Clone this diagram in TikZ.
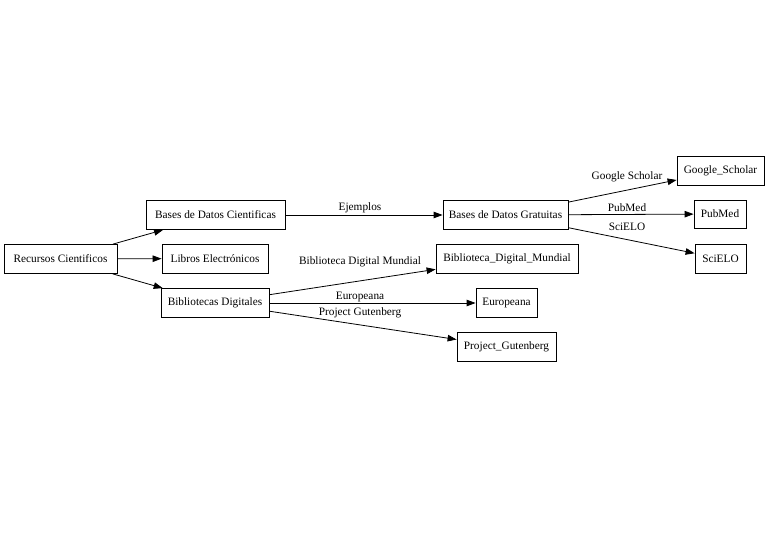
\documentclass[tikz,border=0pt]{standalone}
\usepackage{fontspec}
\setmainfont{Liberation Serif}
\usetikzlibrary{arrows.meta}

\tikzset{
  caja/.style={draw, line width=0.8pt, minimum height=29pt, inner sep=0pt, minimum width=#1},
  etiq/.style={inner sep=0pt},
  flecha/.style={line width=0.8pt, -{Triangle[length=9pt,width=6.5pt]}}
}

\begin{document}
\begin{tikzpicture}[x=1pt,y=-1pt,font=\fontsize{11.3}{13}\selectfont]
        \useasboundingbox (0,0) rectangle (768,543);

        % cajas
        \node[caja=113pt] (rec) at (60.5,259) {Recursos Cientificos};
        \node[caja=139pt] (bdc) at (215.5,215) {Bases de Datos Cientificas};
        \node[caja=106pt] (lib) at (215,258.5) {Libros Electrónicos};
        \node[caja=108pt] (bib) at (215,303) {Bibliotecas Digitales};
        \node[caja=125pt] (bdg) at (505.5,215) {Bases de Datos Gratuitas};
        \node[caja=142pt] (bdm) at (507,258.5) {Biblioteca\_Digital\_Mundial};
        \node[caja=61pt] (eur) at (506.5,303) {Europeana};
        \node[caja=99pt] (pgu) at (506.5,347) {Project\_Gutenberg};
        \node[caja=87pt] (gsc) at (720.5,171) {Google\_Scholar};
        \node[caja=52pt, minimum height=28pt] (pub) at (720,214) {PubMed};
        \node[caja=51pt] (sci) at (720.5,258.5) {SciELO};

        % flechas
        \foreach \a/\b in {rec/bdc,rec/lib,rec/bib,bdc/bdg,bdg/gsc,bdg/pub,bdg/sci,bib/bdm,bib/eur,bib/pgu} {
            \draw[flecha] (\a) -- (\b);
        }

        % etiquetas
        \node[etiq] (lej) at (360,208) {Ejemplos};
        \node[etiq] (lbdm) at (360,262) {Biblioteca Digital Mundial};
        \node[etiq] (leur) at (360,297) {Europeana};
        \node[etiq] (lpgu) at (360,313) {Project Gutenberg};
        \node[etiq] (lgsc) at (627,177) {Google Scholar};
        \node[etiq] (lpub) at (627,208) {PubMed};
        \node[etiq] (lsci) at (627,227) {SciELO};
    \end{tikzpicture}
\end{document}
